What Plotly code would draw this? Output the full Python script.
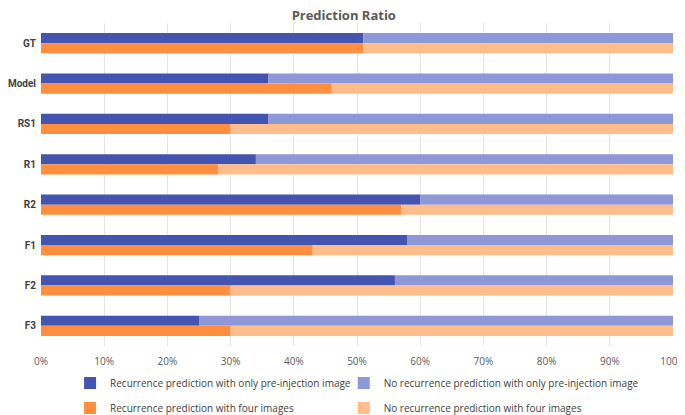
import plotly.graph_objects as go

# models / readers on the y axis
categories = ["GT", "Model", "RS1", "R1", "R2", "F1", "F2", "F3"]

# percentages
rec_pre = [51, 36, 36, 34, 60, 58, 56, 25]
no_rec_pre = [49, 64, 64, 66, 40, 42, 44, 75]
rec_four = [51, 46, 30, 28, 57, 43, 30, 30]
no_rec_four = [49, 54, 70, 72, 43, 57, 70, 70]

tick_pct = [0, 10, 20, 30, 40, 50, 60, 70, 80, 90, 100]

names = ["Recurrence prediction with only pre-injection image",
         "No recurrence prediction with only pre-injection image",
         "Recurrence prediction with four images",
         "No recurrence prediction with four images"]
colors = ["#4355B1", "#8E98D8", "#FF8F3F", "#FFBD8B"]

fig = go.Figure()
fig.add_trace(go.Bar(y=categories, x=rec_pre, name=names[0], orientation="h",
                     offsetgroup="pre", marker_color=colors[0], legend="legend"))
fig.add_trace(go.Bar(y=categories, x=no_rec_pre, base=rec_pre, name=names[1], orientation="h",
                     offsetgroup="pre", marker_color=colors[1], legend="legend2"))
fig.add_trace(go.Bar(y=categories, x=rec_four, name=names[2], orientation="h",
                     offsetgroup="four", marker_color=colors[2], legend="legend3"))
fig.add_trace(go.Bar(y=categories, x=no_rec_four, base=rec_four, name=names[3], orientation="h",
                     offsetgroup="four", marker_color=colors[3], legend="legend4"))
fig.update_traces(marker_line_width=0, showlegend=True)

# one legend per entry so the 2x2 grid can be placed like the original
legend_style = dict(orientation="h", xanchor="left", yanchor="middle",
                    font=dict(size=10, color="#404040"), itemwidth=30,
                    bgcolor="rgba(0,0,0,0)")
col1, col2 = 0.046, 0.479
row1, row2 = -0.1146, -0.192

# page body adds an 8px offset, so the figure is 8px smaller than the window
fig.update_layout(
    width=677, height=407, showlegend=True,
    barmode="group", bargap=0.5, bargroupgap=0,
    paper_bgcolor="white", plot_bgcolor="white",
    font=dict(family="Open Sans", color="#595959"),
    margin=dict(l=33, r=12, t=15, b=69, autoexpand=False),
    title=dict(text="<b>Prediction Ratio</b>", x=0.496, xanchor="center", y=0.981,
               yanchor="middle", font=dict(size=13, color="#595959")),
    legend=dict(legend_style, x=col1, y=row1),
    legend2=dict(legend_style, x=col2, y=row1),
    legend3=dict(legend_style, x=col1, y=row2),
    legend4=dict(legend_style, x=col2, y=row2),
    xaxis=dict(range=[0, 100], tickmode="array", tickvals=tick_pct,
               ticktext=[f"{t}%" for t in tick_pct], showgrid=True,
               gridcolor="#E3E3E3", gridwidth=1, zeroline=False,
               tickfont=dict(size=10, color="#595959"), ticks="",
               ticklabeloverflow="allow", ticklabelstandoff=8),
    yaxis=dict(autorange="reversed", showgrid=False,
               tickfont=dict(family="Roboto", size=10, color="#404040"),
               ticklabelstandoff=4),
)
fig.update_yaxes(ticktext=[f"<b>{c}</b>" for c in categories], tickvals=categories)

fig.write_html("out.html")
